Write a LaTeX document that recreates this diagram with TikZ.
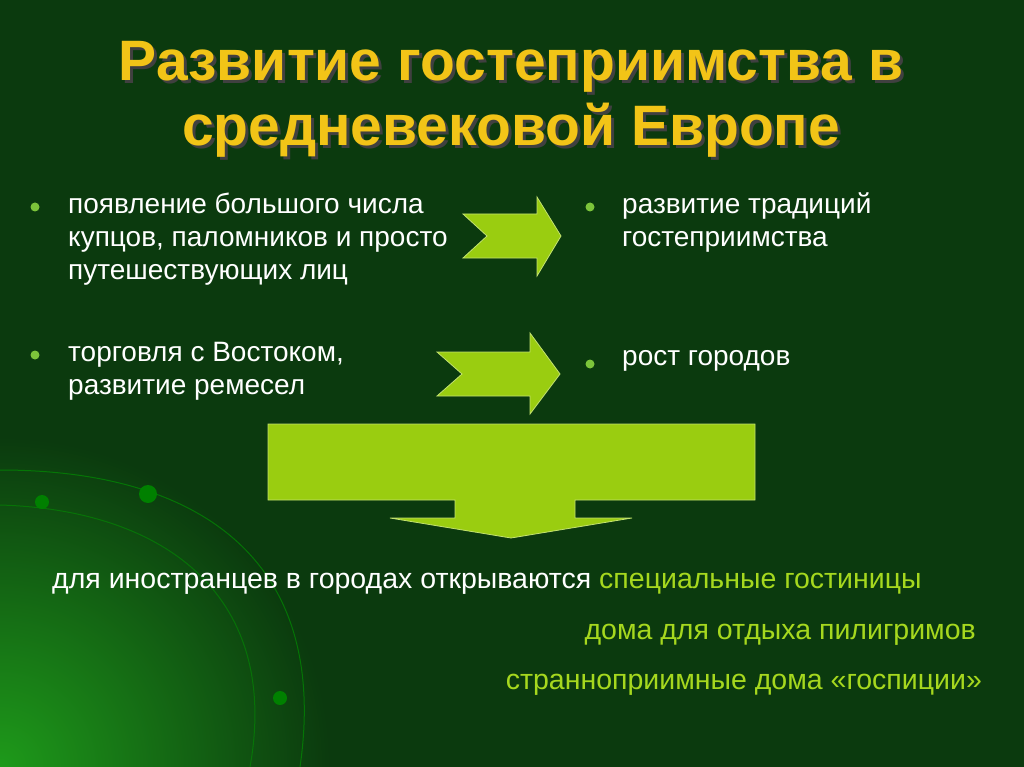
\documentclass[tikz,border=0pt]{standalone}
\usepackage{fontspec}
\setmainfont{Liberation Sans}
\definecolor{bg}{HTML}{0B3A0E}
\definecolor{glow}{HTML}{1E9A1A}
\definecolor{ttl}{HTML}{F2C417}
\definecolor{arr}{HTML}{9ACD10}
\definecolor{gtxt}{HTML}{A6D81E}
\definecolor{dot}{HTML}{7CC43A}
\begin{document}
\begin{tikzpicture}[x=1pt,y=-1pt,
  body/.style={anchor=north west,text=white,font=\fontsize{28}{33}\selectfont,align=left,inner sep=0pt},
  gr/.style={anchor=base east,text=gtxt,font=\fontsize{28.5}{33}\selectfont,inner sep=0pt},
  bul/.style={circle,fill=dot,inner sep=0pt,minimum size=9pt},
  tt/.style={font=\bfseries\fontsize{57}{65}\selectfont,align=center},
  arrowshape/.style={fill=arr,draw=arr!60!white,line width=0.8pt}]
\useasboundingbox (0,0) rectangle (1024,767);
\fill[bg] (0,0) rectangle (1024,767);
\begin{scope}
\clip (0,0) rectangle (1024,767);
\shade[inner color=glow,outer color=bg] (0,767) circle (330);
\end{scope}
\draw[green!60!black,opacity=0.6,line width=1pt] (0,470) .. controls (200,470) and (330,560) .. (300,767);
\draw[green!60!black,opacity=0.5,line width=1pt] (0,505) .. controls (170,510) and (280,600) .. (250,767);
\fill[green!50!black] (148,494) circle (9);
\fill[green!50!black] (42,502) circle (7);
\fill[green!50!black] (280,698) circle (7);
% title
\node (shadow) [tt,text=black!75] at (514,102) {Развитие гостеприимства в\\средневековой Европе};
\node (title) [tt,text=ttl] at (511,99) {Развитие гостеприимства в\\средневековой Европе};
% bullets
\node (b1) [bul] at (35,207) {};
\node (t1) [body] at (68,193) {появление большого числа\\купцов, паломников и просто\\путешествующих лиц};
\node (b2) [bul] at (35,355) {};
\node (t2) [body] at (68,342) {торговля с Востоком,\\развитие ремесел};
\node (b3) [bul] at (590,207) {};
\node (t3) [body] at (622,193) {развитие традиций\\гостеприимства};
\node (b4) [bul] at (590,364) {};
\node (t4) [body] at (622,350) {рост городов};
% arrows
\draw[arrowshape] (463,214) -- (537,214) -- (537,197) -- (561,236) -- (537,276) -- (537,258) -- (463,258) -- (487,236) -- cycle;
\draw[arrowshape] (437,352) -- (530,352) -- (530,333) -- (560,374) -- (530,414) -- (530,396) -- (437,396) -- (462,374) -- cycle;
\draw[arrowshape] (268,424) -- (755,424) -- (755,500) -- (575,500) -- (575,518) -- (632,518) -- (511,538) -- (390,518) -- (455,518) -- (455,500) -- (268,500) -- cycle;
% bottom text
\node (l1) [anchor=base west,text=white,font=\fontsize{28.5}{33}\selectfont,inner sep=0pt] at (52,588) {для иностранцев в городах открываются \textcolor{gtxt}{специальные гостиницы}};
\node (l2) [gr] at (976,639) {дома для отдыха пилигримов};
\node (l3) [gr] at (982,689) {странноприимные дома «госпиции»};
\end{tikzpicture}
\end{document}
